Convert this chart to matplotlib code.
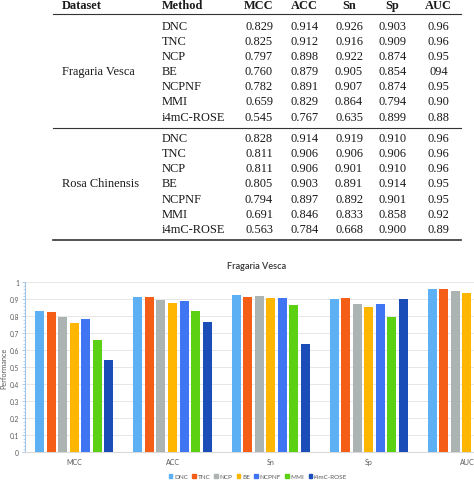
import matplotlib
matplotlib.use("Agg")
import matplotlib.pyplot as plt
import numpy as np
from matplotlib.patches import Patch
from matplotlib.ticker import MultipleLocator

W, H = 474, 481

methods = ["DNC", "TNC", "NCP", "BE", "NCPNF", "MMI", "i4mC-ROSE"]
metrics = ["MCC", "ACC", "Sn", "Sp", "AUC"]
datasets = ["Fragaria Vesca", "Rosa Chinensis"]

# Fragaria Vesca
fv_mcc = [0.829, 0.825, 0.797, 0.760, 0.782, 0.659, 0.545]
fv_acc = [0.914, 0.912, 0.898, 0.879, 0.891, 0.829, 0.767]
fv_sn = [0.926, 0.916, 0.922, 0.905, 0.907, 0.864, 0.635]
fv_sp = [0.903, 0.909, 0.874, 0.854, 0.874, 0.794, 0.899]
fv_auc = [0.96, 0.96, 0.95, 0.94, 0.95, 0.90, 0.88]
fv_auc_text = ["0.96", "0.96", "0.95", "094", "0.95", "0.90", "0.88"]

# Rosa Chinensis
rc_mcc = [0.828, 0.811, 0.811, 0.805, 0.794, 0.691, 0.563]
rc_acc = [0.914, 0.906, 0.906, 0.903, 0.897, 0.846, 0.784]
rc_sn = [0.919, 0.906, 0.901, 0.891, 0.892, 0.833, 0.668]
rc_sp = [0.910, 0.906, 0.910, 0.914, 0.901, 0.858, 0.900]
rc_auc = [0.96, 0.96, 0.96, 0.95, 0.95, 0.92, 0.89]
rc_auc_text = ["%.2f" % v for v in rc_auc]

colors = ["#5EB0F5", "#F55E17", "#ABB3B3", "#FFB600", "#3F74F2", "#5CD114", "#1B4DB8"]

yticks = [0, 0.1, 0.2, 0.3, 0.4, 0.5, 0.6, 0.7, 0.8, 0.9, 1.0]
yticklabels = ["0", "0.1", "0.2", "0.3", "0.4", "0.5", "0.6", "0.7", "0.8", "0.9", "1"]

fig = plt.figure(figsize=(W / 100, H / 100), dpi=100)


def fx(px):
    return px / W


def fy(py):
    return 1 - py / H


# ---- table ----
serif = "Liberation Serif"
tcol = "#1a1a1a"
fs = 8.9
col_x = [259, 304.5, 349, 392.5, 438.5]
head_y = 6.2

fig.text(fx(62), fy(head_y), "Dataset", fontsize=fs, fontweight="bold", family=serif,
         color=tcol, ha="left", va="center")
fig.text(fx(162), fy(head_y), "Method", fontsize=fs, fontweight="bold", family=serif,
         color=tcol, ha="left", va="center")
for x, m in zip(col_x, metrics):
    fig.text(fx(x), fy(head_y), m, fontsize=fs, fontweight="bold", family=serif,
             color=tcol, ha="center", va="center")

fig.add_artist(plt.Line2D([fx(53), fx(461)], [fy(15), fy(15)], color="#333333", lw=0.8))
fig.add_artist(plt.Line2D([fx(53), fx(461)], [fy(128.7), fy(128.7)], color="#333333", lw=0.8))
fig.add_artist(plt.Line2D([fx(53), fx(461)], [fy(241), fy(241)], color="#333333", lw=1.2))

blocks = [
    (datasets[0], 26.7, [fv_mcc, fv_acc, fv_sn, fv_sp], fv_auc_text),
    (datasets[1], 139.0, [rc_mcc, rc_acc, rc_sn, rc_sp], rc_auc_text),
]
pitch = 15.15
for name, y0, cols, auc_txt in blocks:
    fig.text(fx(62), fy(y0 + 3 * pitch), name, fontsize=fs, family=serif,
             color=tcol, ha="left", va="center")
    for i, m in enumerate(methods):
        y = y0 + i * pitch
        fig.text(fx(162), fy(y), m, fontsize=fs, family=serif, color=tcol,
                 ha="left", va="center")
        for j, c in enumerate(cols):
            fig.text(fx(col_x[j]), fy(y), "%.3f" % c[i], fontsize=fs, family=serif,
                     color=tcol, ha="center", va="center")
        fig.text(fx(col_x[4]), fy(y), auc_txt[i], fontsize=fs, family=serif,
                 color=tcol, ha="center", va="center")

# ---- bar chart ----
sans = ["Lato", "DejaVu Sans"]
left, right, top, bottom = 25.3, 516, 283.3, 453.3
ax = fig.add_axes([fx(left), fy(bottom), fx(right - left), (bottom - top) / H])

fv_series = np.array([fv_mcc, fv_acc, fv_sn, fv_sp, fv_auc]).T
x = np.arange(len(metrics))
step = 0.1175
bw = 0.092
for i, m in enumerate(methods):
    ax.bar(x + (i - 3) * step, fv_series[i], width=bw, color=colors[i], label=m, zorder=3)

ax.set_xlim(-0.5, len(metrics) - 0.5)
ax.set_ylim(0, 1)
ax.set_yticks(yticks)
ax.set_yticklabels(yticklabels)
ax.yaxis.set_minor_locator(MultipleLocator(0.02))
ax.set_xticks(x)
ax.set_xticklabels(metrics)
ax.grid(axis="y", color="#E3E3E3", lw=0.6, zorder=0)
for s in ["top", "right"]:
    ax.spines[s].set_visible(False)
ax.spines["left"].set_color("#9DC3E6")
ax.spines["left"].set_linewidth(0.8)
ax.spines["bottom"].set_color("#D9D9D9")
ax.spines["bottom"].set_linewidth(0.8)
ax.tick_params(axis="y", which="major", length=2.0, width=0.6, color="#9DC3E6",
               labelsize=4.8, labelcolor="#595959", pad=2.5)
ax.tick_params(axis="y", which="minor", length=1.3, width=0.5, color="#9DC3E6")
ax.tick_params(axis="x", length=0, labelsize=5, labelcolor="#595959", pad=4)
for lab in ax.get_xticklabels() + ax.get_yticklabels():
    lab.set_family(sans)

fig.text(fx(256.7), fy(267), "Fragaria Vesca", fontsize=6.6, family=sans,
         fontweight="semibold", color="#333333", ha="center", va="center")
fig.text(fx(3.5), fy(368), "Performance", fontsize=5.3, family=sans, color="#595959",
         rotation=90, ha="center", va="center")

handles = [Patch(color=c, label=m) for c, m in zip(colors, methods)]
fig.legend(handles=handles, loc="center", bbox_to_anchor=(fx(258), fy(477.5)), ncol=7,
           frameon=False, prop={"family": sans, "size": 4.6}, handlelength=0.55,
           handleheight=0.55, handletextpad=0.3, columnspacing=0.65,
           labelcolor="#595959", borderaxespad=0, borderpad=0)

fig.savefig("out.png", dpi=100)
